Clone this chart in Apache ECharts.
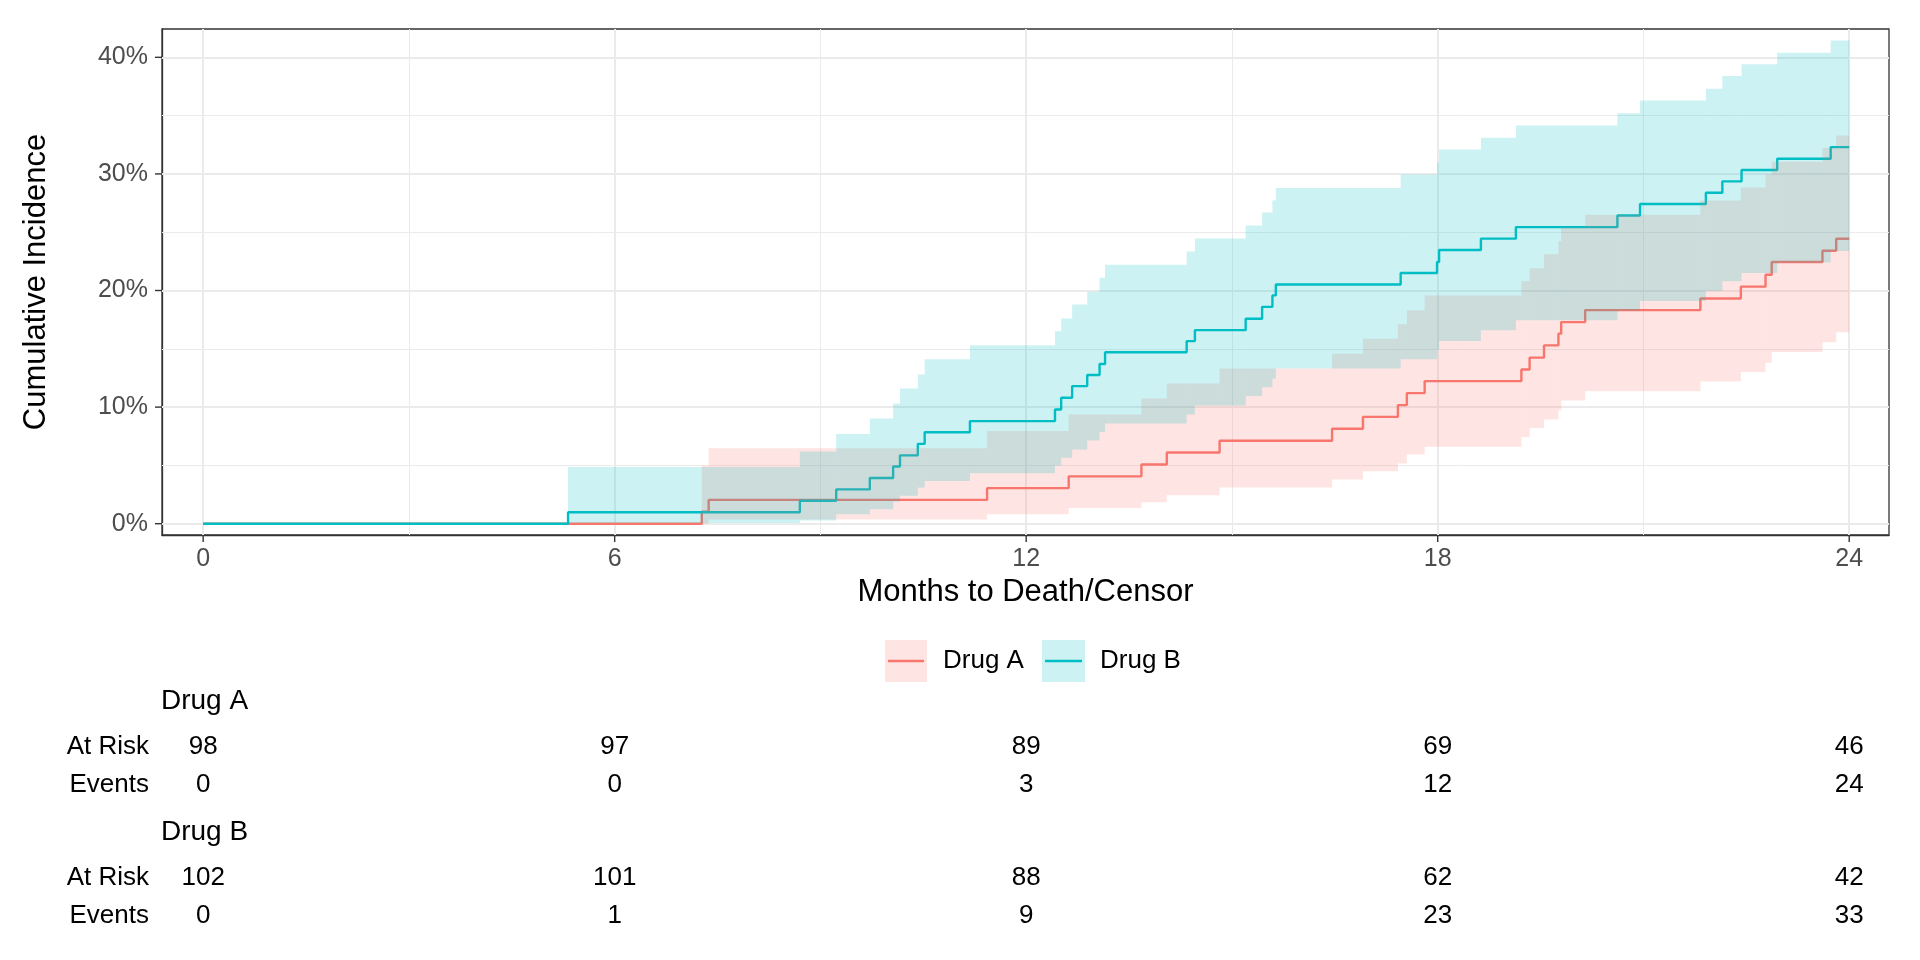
<!DOCTYPE html>
<html>
<head>
    <meta charset="utf-8">
    <title>Cumulative Incidence</title>
    <script src="https://cdn.jsdelivr.net/npm/echarts@6/dist/echarts.min.js"></script>
    <style>
        html, body { margin: 0; padding: 0; background: #fff; }
        #main { width: 1920px; height: 960px; }
    </style>
</head>
<body>
<div id="main"></div>
<script type="text/javascript">
    // event times (months) and cumulative incidence (%) with 95% CI
    var drugATime  = [0, 7.27, 7.37, 11.43, 12.62, 13.68, 14.05, 14.82, 16.46, 16.91, 17.42, 17.55, 17.81,
                      19.22, 19.34, 19.55, 19.76, 19.80, 20.15, 21.83, 22.42, 22.78, 22.87, 23.61, 23.81];
    var drugAEst   = [0, 1.02, 2.04, 3.05, 4.06, 5.08, 6.11, 7.12, 8.14, 9.16, 10.17, 11.2, 12.23,
                      13.23, 14.24, 15.29, 16.3, 17.29, 18.32, 19.32, 20.33, 21.35, 22.44, 23.41, 24.44];
    var drugALower = [0, 0, 0.37, 0.8, 1.34, 1.83, 2.45, 3.11, 3.8, 4.49, 5.17, 5.94, 6.6,
                      7.43, 8.2, 8.94, 9.74, 10.57, 11.35, 12.2, 13.0, 13.8, 14.72, 15.57, 16.43];
    var drugAUpper = [0, 4.97, 6.46, 7.94, 9.37, 10.74, 12.03, 13.32, 14.58, 15.87, 17.1, 18.3, 19.58,
                      20.8, 21.9, 23.1, 24.24, 25.4, 26.5, 27.73, 28.84, 29.96, 31.05, 32.25, 33.3];

    var drugBTime  = [0, 5.32, 8.70, 9.23, 9.72, 10.06, 10.16, 10.42, 10.52, 11.18, 12.42, 12.51, 12.67,
                      12.89, 13.07, 13.15, 14.34, 14.46, 15.20, 15.44, 15.59, 15.64, 17.46, 17.99, 18.02,
                      18.63, 19.14, 20.62, 20.95, 21.91, 22.15, 22.43, 22.95, 23.73];
    var drugBEst   = [0, 0.98, 1.97, 2.94, 3.92, 4.9, 5.86, 6.85, 7.84, 8.8, 9.8, 10.8, 11.8,
                      12.75, 13.7, 14.7, 15.66, 16.6, 17.58, 18.6, 19.58, 20.52, 21.5, 22.44, 23.47,
                      24.45, 25.44, 26.44, 27.42, 28.39, 29.36, 30.33, 31.3, 32.3];
    var drugBLower = [0, 0.05, 0.27, 0.8, 1.23, 1.9, 2.4, 3.09, 3.66, 4.33, 5.0, 5.66, 6.37,
                      7.14, 7.86, 8.6, 9.37, 10.14, 10.95, 11.7, 12.45, 13.32, 14.1, 14.9, 15.66,
                      16.6, 17.44, 18.28, 19.1, 19.95, 20.8, 21.5, 22.4, 23.38];
    var drugBUpper = [0, 4.86, 6.2, 7.7, 9.03, 10.3, 11.6, 12.8, 14.1, 15.3, 16.5, 17.6, 18.8,
                      19.9, 21.1, 22.2, 23.35, 24.47, 25.58, 26.7, 27.73, 28.8, 29.96, 31.0, 32.1,
                      33.1, 34.15, 35.2, 36.3, 37.3, 38.4, 39.4, 40.4, 41.45];
    var followUpEnd = 24;

    // axes
    var xTicks = [0, 6, 12, 18, 24];
    var xMinor = [3, 9, 15, 21];
    var yTicks = [0, 10, 20, 30, 40];
    var yMinor = [5, 15, 25, 35];

    // risk table
    var riskTimes = [0, 6, 12, 18, 24];
    var riskRows = ['At Risk', 'Events'];
    var atRiskA = [98, 97, 89, 69, 46];
    var eventsA = [0, 0, 3, 12, 24];
    var atRiskB = [102, 101, 88, 62, 42];
    var eventsB = [0, 1, 9, 23, 33];

    var colA = '#F8766D';
    var colB = '#00BFC4';
    var fillA = 'rgba(248,118,109,0.2)';
    var fillB = 'rgba(0,191,196,0.2)';
    var font = 'Liberation Sans, Arial, sans-serif';

    // panel range, with a small expansion around the data
    var xLo = -0.6, xHi = 24.58;
    var yLo = -0.97, yHi = 42.43;

    function stepLine(times, est) {
        var d = times.map(function (t, i) { return [t, est[i]]; });
        d.push([followUpEnd, est[est.length - 1]]);
        return d;
    }

    function bandRects(times, lo, hi) {
        var d = [];
        for (var i = 0; i < times.length; i++) {
            var tEnd = i + 1 < times.length ? times[i + 1] : followUpEnd;
            d.push([times[i], tEnd, lo[i], hi[i]]);
        }
        return d;
    }

    function riskData(atRisk, events) {
        var d = [];
        riskTimes.forEach(function (t, i) { d.push([t, 0, atRisk[i]]); });
        riskTimes.forEach(function (t, i) { d.push([t, 1, events[i]]); });
        return d;
    }

    function bandSeries(data, fill) {
        return {
            type: 'custom',
            xAxisIndex: 0,
            yAxisIndex: 0,
            z: 3,
            silent: true,
            encode: { x: [0, 1], y: [2, 3] },
            data: data,
            renderItem: function (params, api) {
                var p0 = api.coord([api.value(0), api.value(3)]);
                var p1 = api.coord([api.value(1), api.value(2)]);
                return {
                    type: 'rect',
                    shape: { x: p0[0], y: p0[1], width: p1[0] - p0[0], height: p1[1] - p0[1] },
                    style: { fill: fill, stroke: null }
                };
            }
        };
    }

    // axis tick marks, placed through the panel's scales, sticking out of the panel
    function tickSeries(values, isX) {
        return {
            type: 'custom',
            xAxisIndex: 0,
            yAxisIndex: 0,
            z: 4,
            silent: true,
            clip: false,
            encode: isX ? { x: 0 } : { y: 0 },
            data: values.map(function (v) { return [v]; }),
            renderItem: function (params, api) {
                var v = api.value(0);
                var p = isX ? api.coord([v, yLo]) : api.coord([xLo, v]);
                var shape = isX
                    ? { x1: p[0], y1: p[1], x2: p[0], y2: p[1] + 7 }
                    : { x1: p[0], y1: p[1], x2: p[0] - 7, y2: p[1] };
                return {
                    type: 'line',
                    shape: shape,
                    style: { stroke: '#333333', lineWidth: 1.4 }
                };
            }
        };
    }

    function riskSeries(idx, data) {
        return {
            type: 'custom',
            xAxisIndex: idx,
            yAxisIndex: idx,
            silent: true,
            encode: { x: 0, y: 1 },
            data: data,
            renderItem: function (params, api) {
                var p = api.coord([api.value(0), api.value(1)]);
                return {
                    type: 'text',
                    x: p[0],
                    y: p[1],
                    style: {
                        text: String(api.value(2)),
                        fontSize: 26,
                        fontFamily: font,
                        fill: '#000',
                        align: 'center',
                        verticalAlign: 'middle'
                    }
                };
            }
        };
    }

    function gridLineSeries(xs, ys, width) {
        var lines = xs.map(function (v) { return { xAxis: v }; })
            .concat(ys.map(function (v) { return { yAxis: v }; }));
        return {
            type: 'line',
            xAxisIndex: 0,
            yAxisIndex: 0,
            data: [[0, 0]],
            symbol: 'none',
            lineStyle: { opacity: 0 },
            silent: true,
            z: 1,
            markLine: {
                silent: true,
                z: 1,
                symbol: ['none', 'none'],
                label: { show: false },
                lineStyle: { color: '#EBEBEB', width: width, type: 'solid' },
                emphasis: { disabled: true },
                data: lines
            }
        };
    }

    function tableAxisX(idx) {
        return { gridIndex: idx, type: 'value', min: xLo, max: xHi, show: false };
    }

    function tableAxisY(idx) {
        return {
            gridIndex: idx,
            type: 'category',
            data: riskRows,
            inverse: true,
            axisLine: { show: false },
            axisTick: { show: false },
            splitLine: { show: false },
            axisLabel: { fontSize: 26, color: '#000', margin: 13, fontFamily: font }
        };
    }

    var chart = echarts.init(document.getElementById('main'));

    var option = {
        animation: false,
        backgroundColor: '#ffffff',
        textStyle: { fontFamily: font },
        grid: [
            { left: 162, right: 31, top: 29, height: 506, show: true,
              borderColor: '#333333', borderWidth: 1.3, backgroundColor: '#ffffff' },
            { left: 162, right: 31, top: 728, height: 76 },
            { left: 162, right: 31, top: 859, height: 76 }
        ],
        xAxis: [
            {
                gridIndex: 0,
                type: 'value',
                min: xLo,
                max: xHi,
                axisLine: { show: true, onZero: false, lineStyle: { color: '#333333', width: 1.3 } },
                splitLine: { show: false },
                axisTick: { show: false },
                axisLabel: { customValues: xTicks, fontSize: 25, color: '#4D4D4D', margin: 12 },
                name: 'Months to Death/Censor',
                nameLocation: 'middle',
                nameGap: 40,
                nameTextStyle: { fontSize: 31, color: '#000000' }
            },
            tableAxisX(1),
            tableAxisX(2)
        ],
        yAxis: [
            {
                gridIndex: 0,
                type: 'value',
                min: yLo,
                max: yHi,
                axisLine: { show: true, onZero: false, lineStyle: { color: '#333333', width: 1.3 } },
                splitLine: { show: false },
                axisTick: { show: false },
                axisLabel: { customValues: yTicks, fontSize: 25, color: '#4D4D4D', margin: 14,
                             formatter: function (v) { return v + '%'; } },
                name: 'Cumulative Incidence',
                nameLocation: 'middle',
                nameGap: 110,
                nameRotate: 90,
                nameTextStyle: { fontSize: 31, color: '#000000' }
            },
            tableAxisY(1),
            tableAxisY(2)
        ],
        graphic: [
            // legend
            { type: 'rect', left: 885, top: 640, shape: { width: 42, height: 42 }, style: { fill: fillA }, silent: true },
            { type: 'line', shape: { x1: 888, y1: 661, x2: 924, y2: 661 }, style: { stroke: colA, lineWidth: 2.4 }, silent: true },
            { type: 'text', x: 943, y: 661, style: { text: 'Drug A', fontSize: 26, fontFamily: font, fill: '#000', verticalAlign: 'middle' }, silent: true },
            { type: 'rect', left: 1042, top: 640, shape: { width: 43, height: 42 }, style: { fill: fillB }, silent: true },
            { type: 'line', shape: { x1: 1045, y1: 661, x2: 1082, y2: 661 }, style: { stroke: colB, lineWidth: 2.4 }, silent: true },
            { type: 'text', x: 1100, y: 661, style: { text: 'Drug B', fontSize: 26, fontFamily: font, fill: '#000', verticalAlign: 'middle' }, silent: true },
            // risk table group titles
            { type: 'text', x: 161, y: 701, style: { text: 'Drug A', fontSize: 28, fontFamily: font, fill: '#000', verticalAlign: 'middle' }, silent: true },
            { type: 'text', x: 161, y: 832, style: { text: 'Drug B', fontSize: 28, fontFamily: font, fill: '#000', verticalAlign: 'middle' }, silent: true }
        ],
        series: [
            gridLineSeries(xMinor, yMinor, 1),
            gridLineSeries(xTicks, yTicks, 2),
            {
                name: 'Drug A', type: 'line', step: 'end', showSymbol: false, symbol: 'none', z: 2,
                xAxisIndex: 0, yAxisIndex: 0,
                lineStyle: { color: colA, width: 2.4 },
                data: stepLine(drugATime, drugAEst)
            },
            {
                name: 'Drug B', type: 'line', step: 'end', showSymbol: false, symbol: 'none', z: 2,
                xAxisIndex: 0, yAxisIndex: 0,
                lineStyle: { color: colB, width: 2.4 },
                data: stepLine(drugBTime, drugBEst)
            },
            bandSeries(bandRects(drugATime, drugALower, drugAUpper), fillA),
            bandSeries(bandRects(drugBTime, drugBLower, drugBUpper), fillB),
            tickSeries(xTicks, true),
            tickSeries(yTicks, false),
            riskSeries(1, riskData(atRiskA, eventsA)),
            riskSeries(2, riskData(atRiskB, eventsB))
        ]
    };

    chart.setOption(option);
</script>
</body>
</html>
